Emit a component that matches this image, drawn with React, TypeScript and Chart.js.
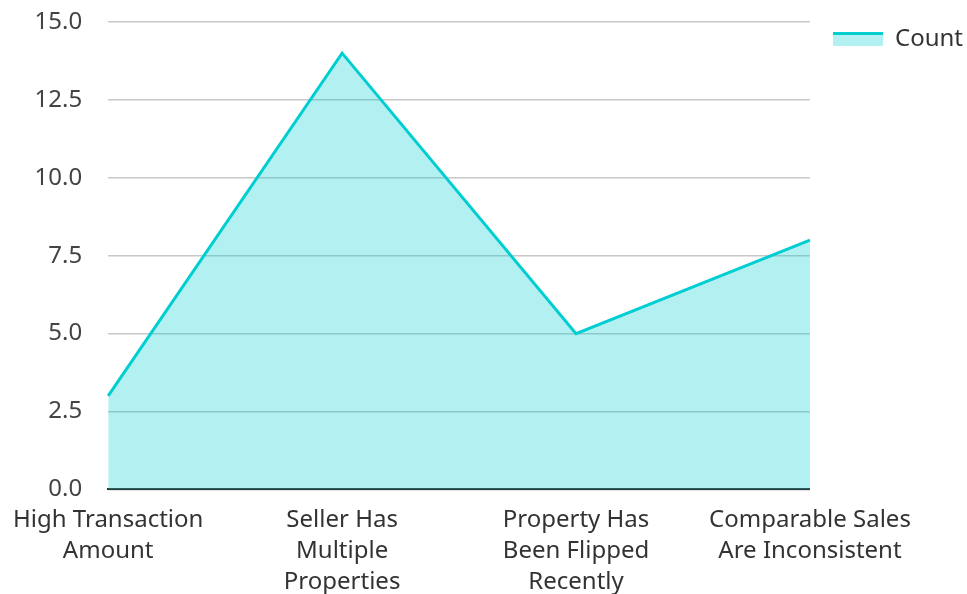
import React, { useEffect, useRef } from "react";
import { Chart, registerables } from "chart.js";

Chart.register(...registerables);

const categories: (string | string[])[] = [
  ["High Transaction", "Amount"],
  ["Seller Has", "Multiple", "Properties"],
  ["Property Has", "Been Flipped", "Recently"],
  ["Comparable Sales", "Are Inconsistent"],
];
const countValues = [3, 14, 5, 8];
const seriesLabel = "Count";

const LINE = "rgb(0, 206, 209)";
const FILL = "rgba(0, 206, 209, 0.3)";
const FONT = "'Noto Sans', sans-serif";

const legendTopLine = {
  id: "legendTopLine",
  afterDraw(chart: any) {
    const boxes = chart.legend?.legendHitBoxes;
    if (!boxes || !boxes.length) return;
    const ctx = chart.ctx;
    const b = boxes[0];
    const top = b.top + (b.height - 14) / 2;
    ctx.save();
    ctx.fillStyle = LINE;
    ctx.fillRect(b.left, top, 50, 3);
    ctx.restore();
  },
};

export default function App() {
  const ref = useRef<HTMLCanvasElement | null>(null);
  useEffect(() => {
    if (!ref.current) return;
    const chart = new Chart(ref.current, {
      type: "line",
      data: {
        labels: categories,
        datasets: [
          {
            label: seriesLabel,
            data: countValues,
            borderColor: LINE,
            backgroundColor: FILL,
            borderWidth: 3,
            fill: "origin",
            pointRadius: 0,
            tension: 0,
          },
        ],
      },
      options: {
        animation: false,
        responsive: false,
        maintainAspectRatio: false,
        layout: { padding: { top: 0, right: -6, bottom: -19, left: 0 } },
        plugins: {
          legend: {
            position: "right",
            align: "start",
            title: {
              display: true,
              text: " ",
              font: { family: FONT, size: 10 },
              padding: { top: 0, bottom: 5 },
            },
            labels: {
              boxWidth: 50,
              boxHeight: 14,
              color: "#333",
              font: { family: FONT, size: 24 },
              padding: 10,
              generateLabels: () => [
                {
                  text: seriesLabel,
                  fillStyle: FILL,
                  strokeStyle: FILL,
                  fontColor: "#333",
                  lineWidth: 0,
                  datasetIndex: 0,
                  hidden: false,
                },
              ],
            },
          },
          tooltip: { enabled: false },
        },
        scales: {
          x: {
            offset: false,
            grid: { display: false, drawTicks: false },
            border: { display: true, color: "#333", width: 2 },
            ticks: {
              color: "#333",
              font: { family: FONT, size: 24, lineHeight: 1.3 },
              maxRotation: 0,
              autoSkip: false,
              padding: 15,
            },
            afterFit: (s: any) => {
              s.paddingLeft = s.paddingLeft - 2;
            },
          },
          y: {
            min: 0,
            max: 15,
            grid: { color: "#c8c8c8", lineWidth: 1.5, drawTicks: false },
            border: { display: false },
            ticks: {
              stepSize: 2.5,
              color: "#444",
              font: { family: FONT, size: 24 },
              padding: 26,
              callback: (v: any) => Number(v).toFixed(1),
            },
            afterFit: (s: any) => {
              s.paddingTop = 22;
            },
          },
          gap: {
            type: "linear",
            position: "right",
            display: true,
            grid: { display: false, drawTicks: false },
            border: { display: false },
            ticks: { display: false },
            afterFit: (s: any) => {
              s.width = 13;
            },
          },
        },
      },
      plugins: [legendTopLine],
    });
    return () => chart.destroy();
  }, []);
  return (
    <div style={{ position: "absolute", left: 0, top: 0, width: 967, height: 594 }}>
      <canvas ref={ref} width={967} height={594} style={{ display: "block" }} />
    </div>
  );
}
